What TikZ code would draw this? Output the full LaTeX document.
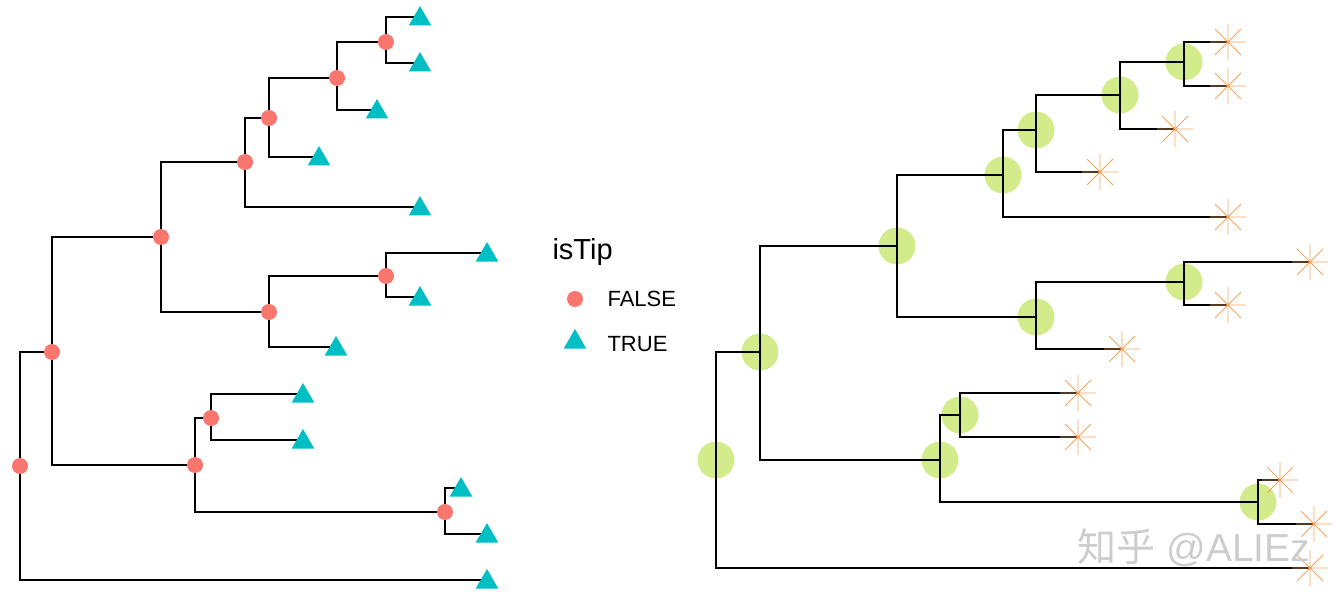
\documentclass[tikz,border=0pt]{standalone}
\usepackage{fontspec}
\setmainfont{Liberation Sans}
\newfontfamily\cjk{Noto Sans CJK SC}
\usetikzlibrary{shapes.geometric}
\begin{document}
\begin{tikzpicture}[x=1pt,y=-1pt,
  br/.style={draw=black,line width=1.2pt},
  fnode/.style={circle,fill={rgb,255:red,248;green,118;blue,109},inner sep=0,minimum size=16pt},
  tnode/.style={regular polygon,regular polygon sides=3,fill={rgb,255:red,0;green,191;blue,196},inner sep=0,minimum size=26pt},
  gnode/.style={circle,fill={rgb,255:red,200;green,230;blue,110},fill opacity=0.8,inner sep=0,minimum size=37pt},
  star/.style={draw={rgb,255:red,245;green,164;blue,93},line width=0.8pt}]
\useasboundingbox (0,0) rectangle (1344,604);
% ---- left tree ----
\foreach \n/\x/\y in {r/20/466,a/52/352,b/161/237,c/245/162,d/269/118,e/337/78,f/386/42,g/269/312,h/386/276,i/195/465,j/211/418,k/445/512}
  \coordinate (L\n) at (\x,\y);
\foreach \n/\x/\y in {t1/487/580,t2/420/207,t3/319/157,t4/377/110,t5/420/17,t6/420/63,t7/336/347,t8/487/253,t9/420/297,t10/303/394,t11/303/440,t12/461/488,t13/487/534}
  \coordinate (L\n) at (\x,\y);
\foreach \p/\c in {r/a,r/t1,a/b,a/i,b/c,b/g,c/d,c/t2,d/e,d/t3,e/f,e/t4,f/t5,f/t6,g/h,g/t7,h/t8,h/t9,i/j,i/k,j/t10,j/t11,k/t12,k/t13}
  \draw[br] (L\p) |- (L\c);
\foreach \n in {r,a,b,c,d,e,f,g,h,i,j,k} \node[fnode] (LF\n) at (L\n) {};
\foreach \n in {t1,t2,t3,t4,t5,t6,t7,t8,t9,t10,t11,t12,t13} \node[tnode,yshift=-2pt] (LT\n) at (L\n) {};
% legend
\node[anchor=west,font=\fontsize{29}{32}\selectfont] (lt) at (549,252) {isTip};
\node[fnode] (lf) at (575,299) {};
\node[anchor=west,font=\fontsize{22}{25}\selectfont] (lft) at (604,299) {FALSE};
\node[tnode] (ltr) at (575,342) {};
\node[anchor=west,font=\fontsize{22}{25}\selectfont] (ltt) at (604,344) {TRUE};
% ---- right tree ----
\foreach \n/\x/\y in {r/716/460,a/760/352,b/897/246,c/1003/175,d/1036/130,e/1120/95,f/1184/62,g/1036/317,h/1184/282,i/940/460,j/960/415,k/1258/502}
  \coordinate (R\n) at (\x,\y);
\foreach \n/\x/\y in {t1/1310/568,t2/1228/217,t3/1100/172,t4/1175/129,t5/1228/42,t6/1228/86,t7/1122/349,t8/1310/262,t9/1228/305,t10/1078/393,t11/1078/437,t12/1280/480,t13/1314/524}
  \coordinate (R\n) at (\x,\y);
\foreach \n in {r,a,b,c,d,e,f,g,h,i,j,k} \node[gnode] (RG\n) at (R\n) {};
\foreach \p/\c in {r/a,r/t1,a/b,a/i,b/c,b/g,c/d,c/t2,d/e,d/t3,e/f,e/t4,f/t5,f/t6,g/h,g/t7,h/t8,h/t9,i/j,i/k,j/t10,j/t11,k/t12,k/t13}
  \draw[br] (R\p) |- (R\c);
\foreach \n in {t1,t2,t3,t4,t5,t6,t7,t8,t9,t10,t11,t12,t13}
  \draw[star] ([shift={(-18,0)}]R\n) -- ([shift={(18,0)}]R\n)
              ([shift={(0,-18)}]R\n) -- ([shift={(0,18)}]R\n)
              ([shift={(-13,-13)}]R\n) -- ([shift={(13,13)}]R\n)
              ([shift={(-13,13)}]R\n) -- ([shift={(13,-13)}]R\n);
\node[text={rgb,255:red,205;green,205;blue,205},font=\fontsize{39}{42}\selectfont] (wm) at (1194,548) {{\cjk 知乎} @ALIEz};
\end{tikzpicture}
\end{document}
